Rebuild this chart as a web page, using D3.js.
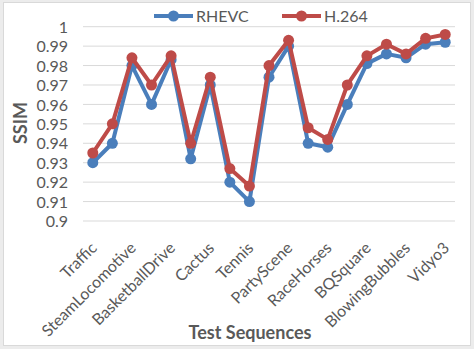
<!DOCTYPE html>
<html><head><meta charset="utf-8">
<script src="https://cdn.jsdelivr.net/npm/d3@7"></script>
<style>
body{margin:0;background:#ececec;}
svg{display:block;}
text{font-family:Lato,"Open Sans",sans-serif;}
</style></head>
<body>
<svg id="chart" width="474" height="349"></svg>
<script>
const categories = ["Traffic","PeopleOnStreet","SteamLocomotive","Kimono","BasketballDrive","BQTerrace","Cactus","ParkScene","Tennis","BasketballDrill","PartyScene","BQMall","RaceHorses","BasketballPass","BQSquare","RaceHorsesC","BlowingBubbles","Vidyo1","Vidyo3"];
const rhevc = [0.930,0.940,0.980,0.960,0.983,0.932,0.970,0.920,0.910,0.974,0.990,0.940,0.938,0.960,0.981,0.986,0.984,0.991,0.992];
const h264  = [0.935,0.950,0.984,0.970,0.985,0.940,0.974,0.927,0.918,0.980,0.993,0.948,0.942,0.970,0.985,0.991,0.986,0.994,0.996];
const yTicks = [0.9,0.91,0.92,0.93,0.94,0.95,0.96,0.97,0.98,0.99,1];
const seriesNames = ["RHEVC","H.264"];
const colors = ["#4A7EBB","#BE4B48"];

const svg = d3.select("#chart");
svg.append("rect").attr("x",3.5).attr("y",2.5).attr("width",467).attr("height",343)
  .attr("fill","#fff").attr("stroke","#d9d9d9");

const x = d3.scaleBand().domain(categories).range([83,455]);
const y = d3.scaleLinear().domain([0.9,1]).range([221,26.7]);

// grid
svg.append("g").selectAll("line").data(yTicks).join("line")
  .attr("x1",83).attr("x2",455).attr("y1",d=>y(d)).attr("y2",d=>y(d))
  .attr("stroke","#d9d9d9").attr("stroke-width",1);

// y axis labels
const yAxis = d3.axisLeft(y).tickValues(yTicks).tickSize(0).tickPadding(0)
  .tickFormat(d=>d3.format("")(+d.toFixed(2)));
const ya = svg.append("g").attr("transform","translate(68,0)").call(yAxis);
ya.select(".domain").remove();
ya.selectAll("text").attr("font-size",16).attr("fill","#595959").attr("font-family","Lato,sans-serif").attr("dy","0.35em");

// x axis labels
const xAxis = d3.axisBottom(x).tickSize(0).tickPadding(0)
  .tickFormat((d,i)=> i%2===0 ? d : "");
const xa = svg.append("g").attr("transform","translate(0,228)").call(xAxis);
xa.select(".domain").remove();
xa.selectAll("text").attr("font-size",16).attr("fill","#595959").attr("font-family","Lato,sans-serif")
  .attr("text-anchor","end").attr("dy",0)
  .attr("transform","translate(5,21) rotate(-45)");

// lines
const series = [rhevc,h264];
series.forEach((vals,si)=>{
  const line = d3.line().x((d,i)=>x(categories[i])+x.bandwidth()/2).y(d=>y(d));
  svg.append("path").datum(vals).attr("d",line).attr("fill","none")
    .attr("stroke",colors[si]).attr("stroke-width",4).attr("stroke-linejoin","round");
  svg.append("g").selectAll("circle").data(vals).join("circle")
    .attr("cx",(d,i)=>x(categories[i])+x.bandwidth()/2).attr("cy",d=>y(d)).attr("r",5.5)
    .attr("fill",colors[si]);
});

// legend
const leg = [{x:154,name:seriesNames[0],c:colors[0]},{x:282,name:seriesNames[1],c:colors[1]}];
leg.forEach(l=>{
  svg.append("line").attr("x1",l.x).attr("x2",l.x+39).attr("y1",16).attr("y2",16).attr("stroke",l.c).attr("stroke-width",4);
  svg.append("circle").attr("cx",l.x+19.5).attr("cy",16).attr("r",5.5).attr("fill",l.c);
  svg.append("text").attr("x",l.x+42).attr("y",16).attr("dy","0.35em").attr("font-size",16).attr("fill","#595959").text(l.name);
});

// axis titles
svg.append("text").attr("x",250).attr("y",339).attr("text-anchor","middle").attr("font-size",18).attr("font-weight","bold").attr("fill","#595959").text("Test Sequences");
svg.append("text").attr("transform","translate(27,123) rotate(-90)").attr("text-anchor","middle").attr("font-size",18).attr("font-weight","bold").attr("fill","#595959").text("SSIM");
</script>
</body></html>
